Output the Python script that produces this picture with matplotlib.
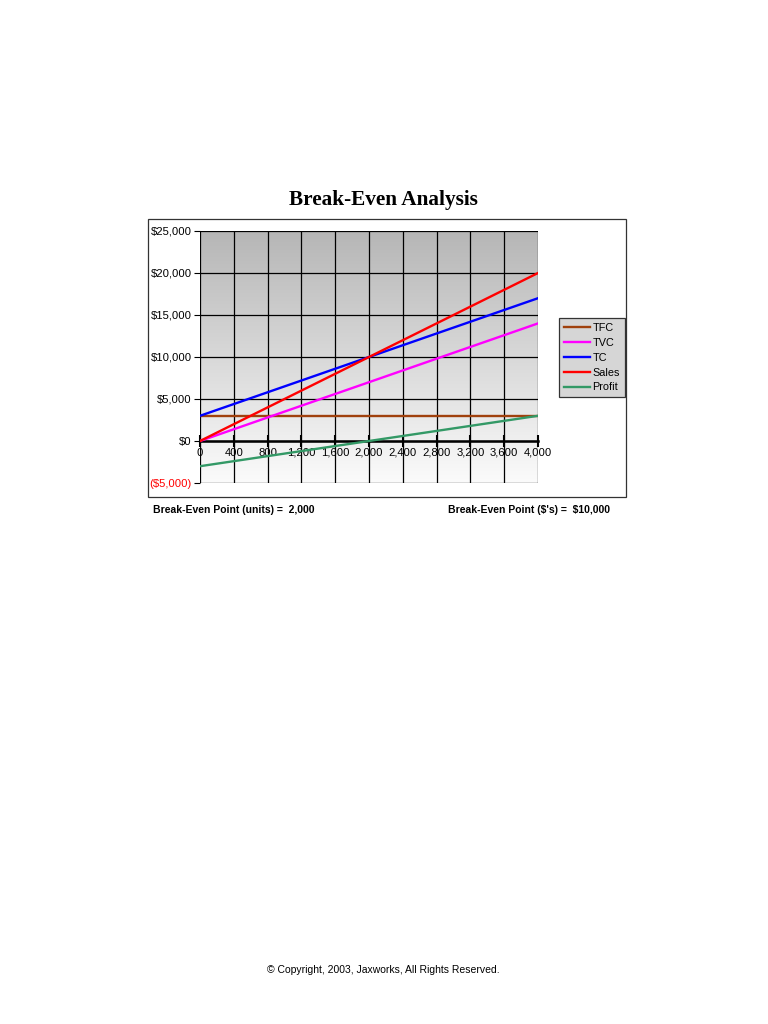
import numpy as np
import matplotlib
matplotlib.use("Agg")
import matplotlib.pyplot as plt
import matplotlib.patches as mpatches
from matplotlib.colors import LinearSegmentedColormap
from matplotlib.ticker import FuncFormatter

units = [0, 400, 800, 1200, 1600, 2000, 2400, 2800, 3200, 3600, 4000]
tfc = [3000, 3000, 3000, 3000, 3000, 3000, 3000, 3000, 3000, 3000, 3000]
tvc = [0, 1400, 2800, 4200, 5600, 7000, 8400, 9800, 11200, 12600, 14000]
tc = [3000, 4400, 5800, 7200, 8600, 10000, 11400, 12800, 14200, 15600, 17000]
sales = [0, 2000, 4000, 6000, 8000, 10000, 12000, 14000, 16000, 18000, 20000]
profit = [-3000, -2400, -1800, -1200, -600, 0, 600, 1200, 1800, 2400, 3000]

series_names = ["TFC", "TVC", "TC", "Sales", "Profit"]
series_colors = ["#a0410d", "#ff00ff", "#0000ff", "#ff0000", "#339966"]

y_ticks = [-5000, 0, 5000, 10000, 15000, 20000, 25000]

plt.rcParams['font.family'] = ['Liberation Sans', 'DejaVu Sans']

fig = plt.figure(figsize=(7.68, 10.24), dpi=100)

# outer chart box
fig.patches.append(mpatches.Rectangle((148 / 768, 1 - 497 / 1024), 478 / 768, 278 / 1024,
                                      transform=fig.transFigure, fill=False,
                                      edgecolor='#333333', linewidth=0.9))

ax = fig.add_axes([200 / 768, 1 - 483 / 1024, 338 / 768, 252 / 1024])

# gray gradient background (dark at top, near white at bottom)
bg = LinearSegmentedColormap.from_list("bg", ["#b6b6b6", "#fbfbfb"])
grad = np.linspace(0, 1, 256).reshape(-1, 1)
ax.imshow(grad, extent=[0, 4000, -5000, 25000], aspect='auto', cmap=bg,
          origin='upper', zorder=0)

for vals, name, col in zip([tfc, tvc, tc, sales, profit], series_names, series_colors):
    ax.plot(units, vals, color=col, linewidth=1.7, label=name, zorder=3)

ax.set_xlim(0, 4000)
ax.set_ylim(-5000, 25000)
ax.set_xticks(units)
ax.set_yticks(y_ticks)
ax.xaxis.set_major_formatter(FuncFormatter(lambda v, p: f"{int(v):,}"))


def money(v, p):
    if v < 0:
        return f"(${abs(int(v)):,})"
    return f"${int(v):,}"


ax.yaxis.set_major_formatter(FuncFormatter(money))
ax.grid(True, color='black', linewidth=0.9, zorder=1)
ax.set_axisbelow(False)

for s in ['top', 'right', 'left']:
    ax.spines[s].set_visible(False)
ax.spines['bottom'].set_position(('data', 0))
ax.spines['bottom'].set_linewidth(1.8)
ax.spines['bottom'].set_zorder(2)

ax.tick_params(axis='x', direction='inout', length=8, width=1.5, pad=1, labelsize=8.1)
ax.tick_params(axis='y', direction='out', length=4, width=0.8, pad=2, labelsize=8.1)
for lbl in ax.get_yticklabels():
    if lbl.get_text().startswith('('):
        lbl.set_color('red')

leg = ax.legend(loc='upper left', bbox_to_anchor=(359 / 338, 1 - 87 / 252), fontsize=7.8,
                frameon=True, fancybox=False, handlelength=2.4, handletextpad=0.25,
                labelspacing=0.45, borderpad=0.45, borderaxespad=0)
leg.get_frame().set_facecolor('#d6d6d6')
leg.get_frame().set_edgecolor('#333333')
leg.get_frame().set_linewidth(0.9)
leg.get_frame().set_alpha(1)

fig.text(383 / 768, 1 - 200 / 1024, "Break-Even Analysis", ha='center', va='center',
         fontsize=15.3, fontweight='bold', family=['Liberation Serif', 'DejaVu Serif'])

fig.text(153 / 768, 1 - 510 / 1024, "Break-Even Point (units) =  2,000", ha='left', va='center',
         fontsize=7.5, fontweight='bold')
fig.text(610 / 768, 1 - 510 / 1024, "Break-Even Point (\\$'s) =  \\$10,000", ha='right', va='center',
         fontsize=7.5, fontweight='bold')

fig.text(383 / 768, 1 - 970 / 1024, "\u00a9 Copyright, 2003, Jaxworks, All Rights Reserved.",
         ha='center', va='center', fontsize=7.5)

fig.savefig("out.png", dpi=100)
